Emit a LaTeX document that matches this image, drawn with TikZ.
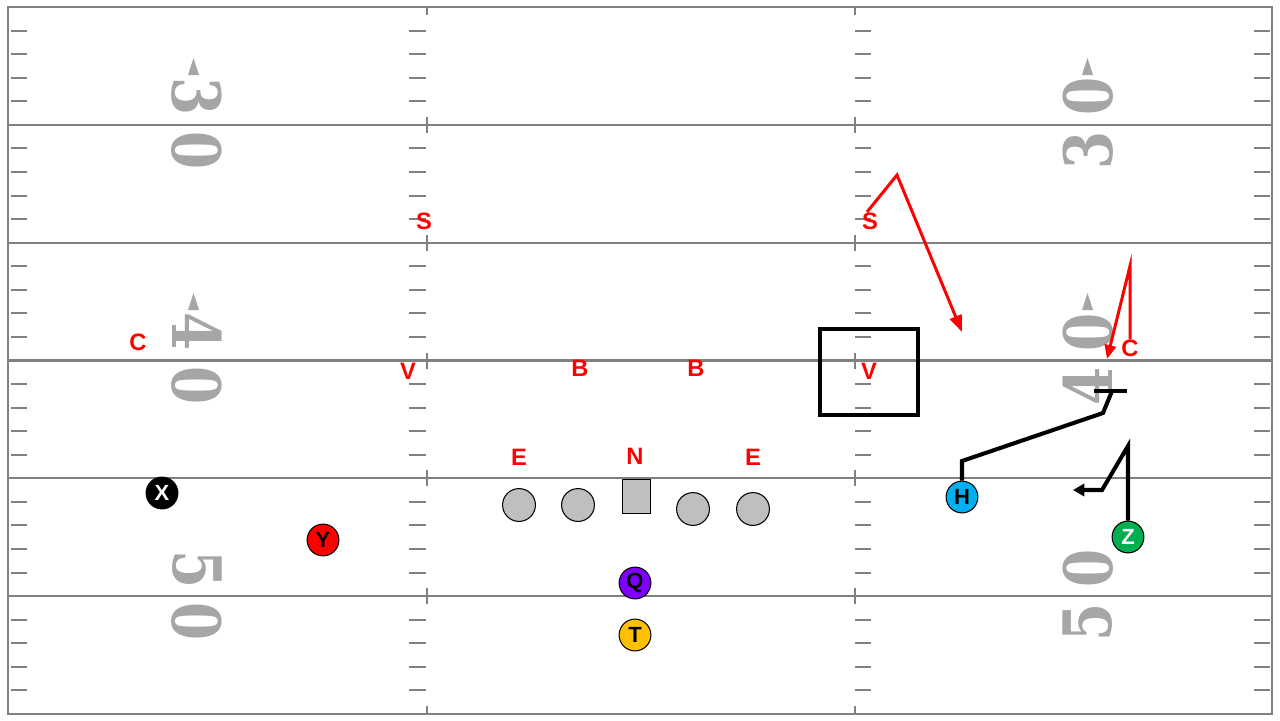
\documentclass[tikz,border=0pt]{standalone}
\usepackage{fontspec}
\usepackage{graphicx}
\newfontfamily\arialfont{Liberation Sans}
\newfontfamily\numfont{DejaVu Serif}
\usetikzlibrary{arrows.meta}

\definecolor{linegray}{RGB}{128,128,128}
\definecolor{numgray}{RGB}{166,166,166}
\definecolor{olgray}{RGB}{191,191,191}
\definecolor{qpurple}{RGB}{127,0,255}
\definecolor{tgold}{RGB}{255,192,0}
\definecolor{hblue}{RGB}{0,176,240}
\definecolor{zgreen}{RGB}{0,176,80}

\tikzset{
    yard/.style={linegray, line width=1.15pt},
    hashmark/.style={linegray, line width=1.15pt},
    yardnum/.style={text=numgray, inner sep=0pt, font=\numfont\bfseries\fontsize{38}{38}\selectfont},
    defender/.style={text=red, inner sep=0pt, font=\arialfont\bfseries\fontsize{13.5}{14}\selectfont},
    player/.style={circle, draw=black, line width=0.6pt, minimum size=18.1pt, inner sep=0pt,
        font=\arialfont\bfseries\fontsize{12.5}{13}\selectfont},
    lineman/.style={circle, draw=black, fill=olgray, line width=0.6pt, minimum size=18.7pt, inner sep=0pt},
    redroute/.style={red, line width=1.7pt},
    blackroute/.style={black, line width=2.3pt}
}

\begin{document}
\begin{tikzpicture}[x=0.02cm, y=-0.02cm]
    \fill[white] (0,0) rectangle (1280,720);
    \useasboundingbox (0,0) rectangle (1280,720);

    % Поле
    \draw[yard] (8,7) rectangle (1272,714);
    \foreach \y in {124.8,242.7,360.5,478.3,596.2} {
        \draw[yard] (8,\y) -- (1272,\y);
        \draw[hashmark] (427,\y-8) -- (427,\y+8);
        \draw[hashmark] (855,\y-8) -- (855,\y+8);
    }
    \draw[hashmark] (427,7) -- (427,15);
    \draw[hashmark] (855,7) -- (855,15);
    \draw[hashmark] (427,706) -- (427,714);
    \draw[hashmark] (855,706) -- (855,714);

    % Отметки ярдов
    \foreach \b in {0,...,5} {
        \foreach \k in {1,...,4} {
            \pgfmathsetmacro\yy{7+117.83*\b+23.57*\k}
            \draw[hashmark] (11,\yy) -- (27,\yy);
            \draw[hashmark] (409,\yy) -- (426,\yy);
            \draw[hashmark] (855,\yy) -- (871,\yy);
            \draw[hashmark] (1254,\yy) -- (1270,\yy);
        }
    }

    % Цифры слева
    \node[yardnum, rotate=-90] (l3) at (197,97) {\scalebox{0.82}[1]{3}};
    \node[yardnum, rotate=-90] (l30) at (197,151) {\scalebox{0.82}[1]{0}};
    \node[yardnum, rotate=-90] (l4) at (197,332) {\scalebox{0.82}[1]{4}};
    \node[yardnum, rotate=-90] (l40) at (197,386) {\scalebox{0.82}[1]{0}};
    \node[yardnum, rotate=-90] (l5) at (197,570) {\scalebox{0.82}[1]{5}};
    \node[yardnum, rotate=-90] (l50) at (197,622) {\scalebox{0.82}[1]{0}};
    \fill[numgray] (188,75) -- (193.5,58) -- (199,75) -- cycle;
    \fill[numgray] (188,310) -- (193.5,293) -- (199,310) -- cycle;

    % Цифры справа
    \node[yardnum, rotate=90] (r30) at (1088,96) {\scalebox{0.82}[1]{0}};
    \node[yardnum, rotate=90] (r3) at (1088,150) {\scalebox{0.82}[1]{3}};
    \node[yardnum, rotate=90] (r40) at (1088,332) {\scalebox{0.82}[1]{0}};
    \node[yardnum, rotate=90] (r4) at (1088,386) {\scalebox{0.82}[1]{4}};
    \node[yardnum, rotate=90] (r50) at (1088,568) {\scalebox{0.82}[1]{0}};
    \node[yardnum, rotate=90] (r5) at (1088,622) {\scalebox{0.82}[1]{5}};
    \fill[numgray] (1082,75) -- (1087.5,58) -- (1093,75) -- cycle;
    \fill[numgray] (1082,310) -- (1087.5,293) -- (1093,310) -- cycle;

    % Защита
    \node[defender] (s1) at (424,221) {S};
    \node[defender] (s2) at (870,221) {S};
    \node[defender] (c1) at (138,342) {C};
    \node[defender] (c2) at (1130,348) {C};
    \node[defender] (v1) at (408,371) {V};
    \node[defender] (v2) at (869,371) {V};
    \node[defender] (b1) at (580,368) {B};
    \node[defender] (b2) at (696,368) {B};
    \node[defender] (e1) at (519,457) {E};
    \node[defender] (n) at (635,456) {N};
    \node[defender] (e2) at (753,457) {E};
    \node[draw=black, line width=2.3pt, minimum width=55.6pt, minimum height=48.8pt] (zone) at (869,372) {};

    % Нападение
    \node[lineman] (ol1) at (519,505) {};
    \node[lineman] (ol2) at (578,505) {};
    \node[draw=black, fill=olgray, line width=0.6pt, minimum width=16.4pt, minimum height=19.8pt, inner sep=0pt] (ctr) at (636.5,496.5) {};
    \node[lineman] (ol3) at (693,509) {};
    \node[lineman] (ol4) at (753,509) {};
    \node[player, fill=qpurple] (q) at (635,583) {Q};
    \node[player, fill=tgold] (t) at (635,635) {T};
    \node[player, fill=black, text=white] (x) at (162,493) {X};
    \node[player, fill=red] (yy) at (323,540) {Y};
    \node[player, fill=hblue] (h) at (962,497) {H};
    \node[player, fill=zgreen, text=white] (z) at (1128,537) {Z};

    % Маршруты
    \coordinate (s2a) at (867,212);
    \coordinate (s2b) at (897,175);
    \coordinate (s2c) at (962,332);
    \draw[redroute, -{Triangle[length=9.5pt, width=7pt]}] (s2a) -- (s2b) -- (s2c);

    \coordinate (c2a) at (1130,266);
    \coordinate (c2b) at (1107,359);
    \draw[redroute, -{Triangle[length=8pt, width=6.5pt]}] (c2.north) -- (c2a) -- (c2b);

    \coordinate (ha) at (962,461);
    \coordinate (hb) at (1103,413);
    \coordinate (hc) at (1112,391);
    \coordinate (hl) at (1094,391);
    \coordinate (hr) at (1127,391);
    \draw[blackroute] (h.north) -- (ha) -- (hb) -- (hc);
    \draw[blackroute] (hl) -- (hr);

    \coordinate (za) at (1128,446);
    \coordinate (zb) at (1102,490);
    \coordinate (zc) at (1073,490);
    \draw[blackroute, -{Triangle[length=6.5pt, width=7pt]}] (z.north) -- (za) -- (zb) -- (zc);
\end{tikzpicture}
\end{document}
